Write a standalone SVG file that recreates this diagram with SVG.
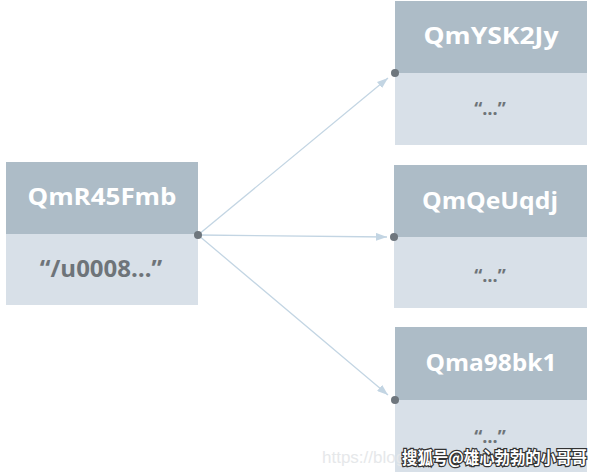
<svg xmlns="http://www.w3.org/2000/svg" width="602" height="475" viewBox="0 0 602 475">
<style>
.hd{fill:#adbcc7}
.bd{fill:#d8e0e8}
.ht{font-family:"Open Sans","Liberation Sans",sans-serif;font-weight:700;font-size:24px;fill:#ffffff;text-anchor:middle}
.bt{font-family:"Open Sans","Liberation Sans",sans-serif;font-weight:700;font-size:24px;fill:#6e7479;text-anchor:middle}
.bs{font-family:"Open Sans","Liberation Sans",sans-serif;font-weight:700;font-size:18px;fill:#6e7479;text-anchor:middle}
.dot{fill:#6e767d}
.conn line{stroke:#c3d5e3;stroke-width:1.3;fill:none}
</style>
<defs>
<marker id="ah" viewBox="0 0 10 10" refX="10" refY="5" markerWidth="11" markerHeight="8" markerUnits="userSpaceOnUse" orient="auto" preserveAspectRatio="none">
<path d="M0,0 L10,5 L0,10 z" fill="#c3d5e3"/>
</marker>
</defs>
<g id="conns" class="conn">
<line x1="198" y1="235" x2="388" y2="78" marker-end="url(#ah)"/>
<line x1="198" y1="235" x2="387" y2="237" marker-end="url(#ah)"/>
<line x1="198" y1="235" x2="388" y2="395" marker-end="url(#ah)"/>
</g>
<g id="n-QmR45Fmb">
<rect class="hd" x="6" y="162" width="192" height="72"/>
<rect class="bd" x="6" y="234" width="192" height="71"/>
<text class="ht" x="102" y="205" textLength="149" lengthAdjust="spacingAndGlyphs">QmR45Fmb</text>
<text class="bt" x="101" y="277">“/u0008…”</text>
<circle class="dot" cx="198" cy="235" r="4"/>
</g>
<g id="n-QmYSK2Jy">
<rect class="hd" x="395" y="1" width="192" height="72"/>
<rect class="bd" x="395" y="73" width="192" height="72"/>
<text class="ht" x="491" y="44" textLength="135" lengthAdjust="spacingAndGlyphs">QmYSK2Jy</text>
<text class="bs" x="490" y="115">“…”</text>
<circle class="dot" cx="395" cy="73" r="4"/>
</g>
<g id="n-QmQeUqdj">
<rect class="hd" x="394" y="165" width="193" height="72"/>
<rect class="bd" x="394" y="237" width="193" height="71"/>
<text class="ht" x="490" y="209" textLength="136" lengthAdjust="spacingAndGlyphs">QmQeUqdj</text>
<text class="bs" x="490" y="282">“…”</text>
<circle class="dot" cx="394" cy="237" r="4"/>
</g>
<g id="n-Qma98bk1">
<rect class="hd" x="395" y="327" width="192" height="73"/>
<rect class="bd" x="395" y="400" width="192" height="72"/>
<text class="ht" x="491" y="371" textLength="131" lengthAdjust="spacingAndGlyphs">Qma98bk1</text>
<text class="bs" x="490" y="443">“…”</text>
<circle class="dot" cx="395" cy="400" r="4"/>
</g>
<g id="watermark">
<text x="322" y="463" font-family="'Liberation Sans',sans-serif" font-size="17" fill="#e6e8ea">https://blog.</text>
<text x="402" y="464" font-family="'Noto Sans CJK SC',sans-serif" font-weight="700" font-size="17" fill="#ffffff" stroke="#333333" stroke-width="2.5" paint-order="stroke" textLength="185" lengthAdjust="spacingAndGlyphs">搜狐号@雄心勃勃的小哥哥</text>
</g>
</svg>
